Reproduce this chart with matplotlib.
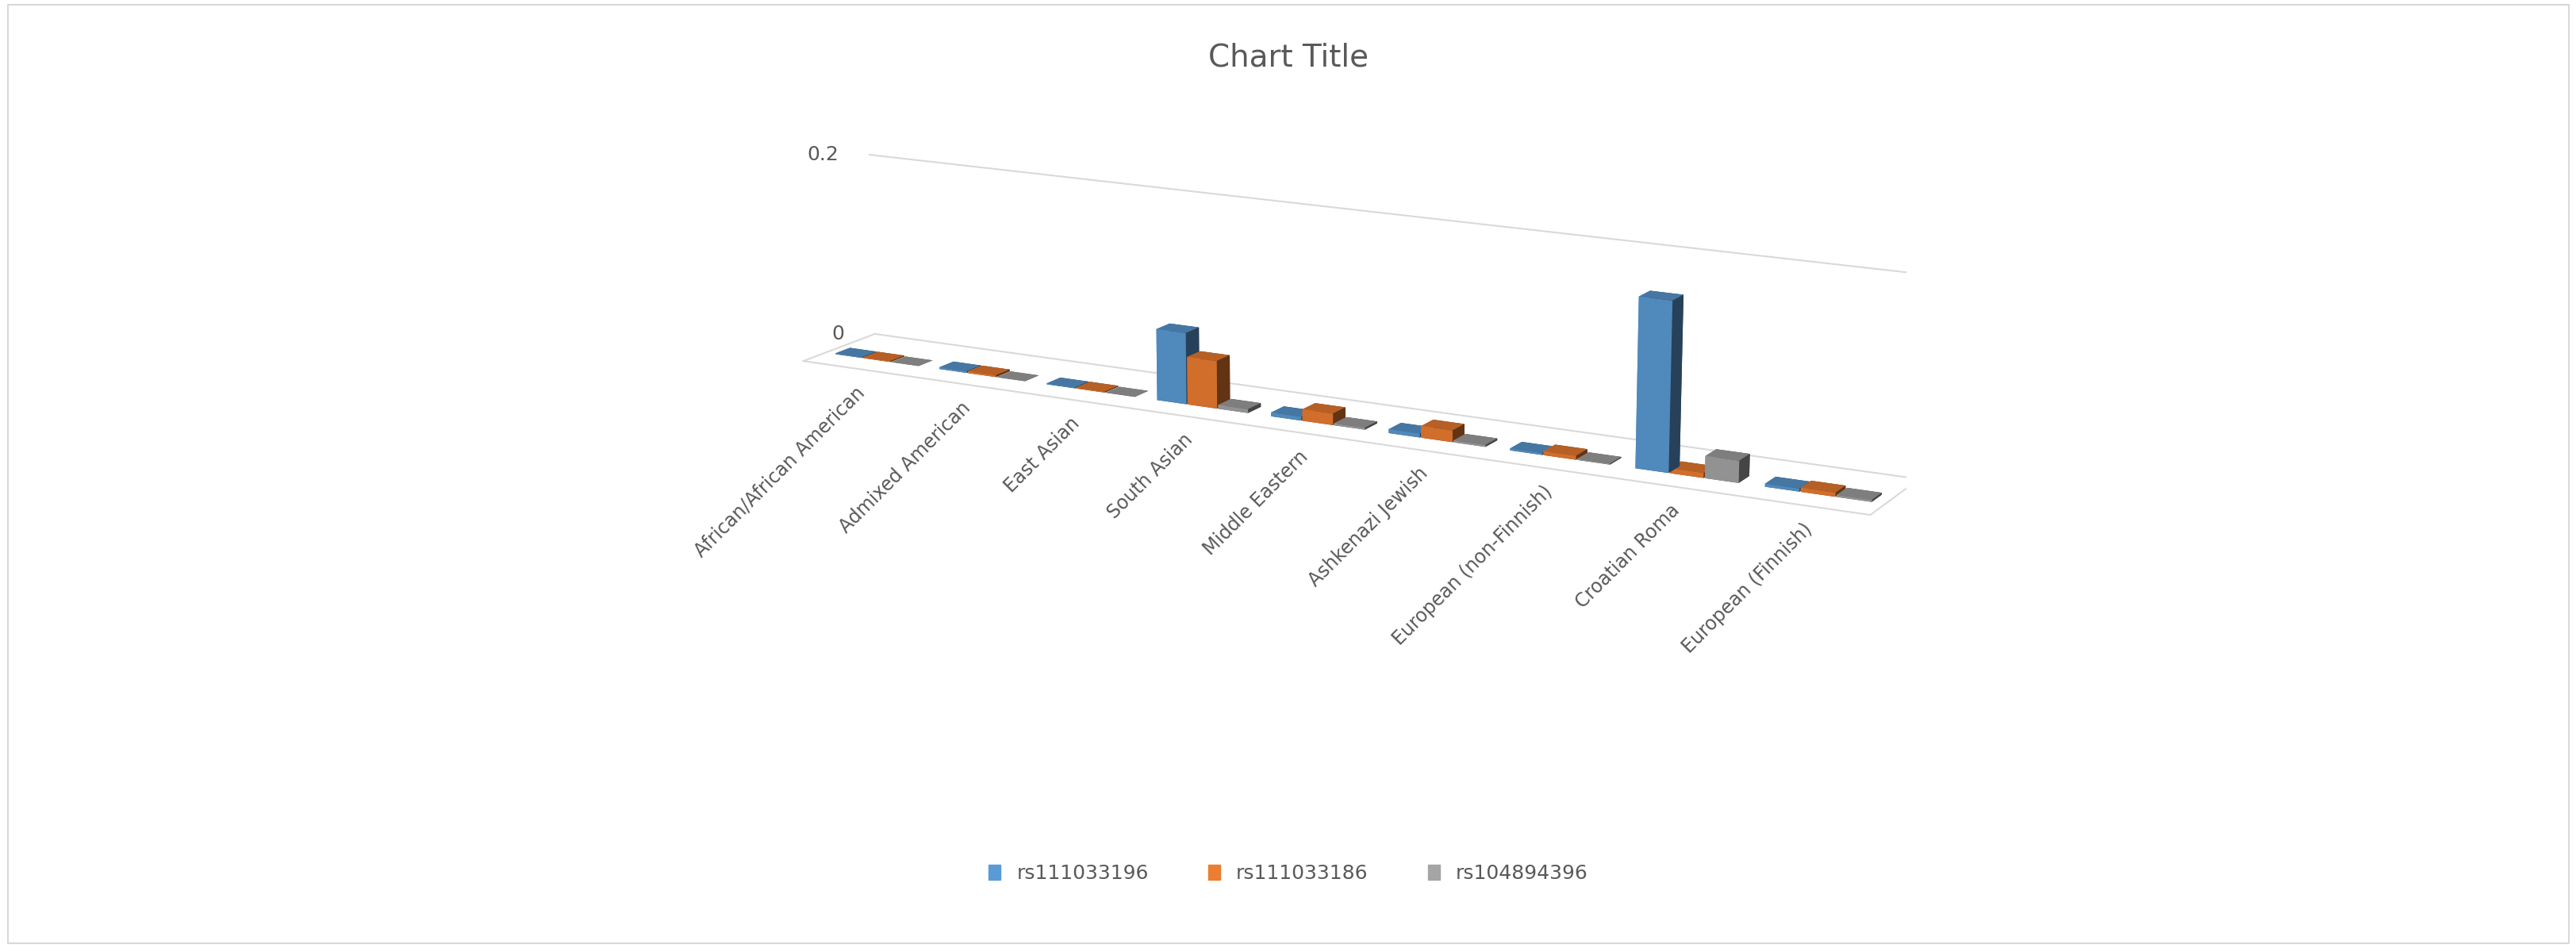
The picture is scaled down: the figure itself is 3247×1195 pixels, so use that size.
import matplotlib
matplotlib.use("Agg")
import matplotlib.pyplot as plt
import numpy as np
from mpl_toolkits.mplot3d import proj3d

categories = ["African/African American", "Admixed American", "East Asian", "South Asian",
              "Middle Eastern", "Ashkenazi Jewish", "European (non-Finnish)", "Croatian Roma",
              "European (Finnish)"]
series_names = ["rs111033196", "rs111033186", "rs104894396"]
rs111033196 = [0.001, 0.002, 0.001, 0.075, 0.004, 0.004, 0.002, 0.17, 0.003]
rs111033186 = [0.001, 0.002, 0.001, 0.05, 0.012, 0.012, 0.004, 0.005, 0.004]
rs104894396 = [0.0, 0.0, 0.0, 0.004, 0.002, 0.002, 0.001, 0.022, 0.002]
colors = ["#5B9BD5", "#ED7D31", "#A5A5A5"]

fig = plt.figure(figsize=(32.48, 11.95), dpi=100)
ax = fig.add_axes([0.14, 0.02, 0.74, 1.25], projection="3d")
ax.view_init(elev=14, azim=-62)
ax.set_proj_type("persp", focal_length=0.6)
ax.set_box_aspect((9, 1.0, 1.5))
n = len(categories)
for si, vals in enumerate([rs111033196, rs111033186, rs104894396]):
    for i, v in enumerate(vals):
        ax.bar3d(i + 0.1 + si * 0.27, 0.3, 0, 0.26, 0.2, max(v, 1e-4), color=colors[si], shade=True)
ax.set_xlim(0, n)
ax.set_ylim(0, 1)
ax.set_zlim(0, 0.2)
ax.set_axis_off()
ax.plot([0, n, n, 0, 0], [0, 0, 1, 1, 0], [0, 0, 0, 0, 0], color="#D9D9D9", lw=1.5)
ax.plot([0, n], [1, 1], [0.2, 0.2], color="#D9D9D9", lw=1.5)

fig.canvas.draw()
W, H = fig.get_size_inches() * fig.dpi
def to_fig(x, y, z):
    x2, y2, _ = proj3d.proj_transform(x, y, z, ax.get_proj())
    px, py = ax.transData.transform((x2, y2))
    return px / W, py / H

for val, lab in [(0.2, "0.2"), (0.0, "0")]:
    fx, fy = to_fig(0, 1, val)
    fig.text(fx - 0.012, fy, lab, fontsize=18, color="#595959", ha="right", va="center")
for i, c in enumerate(categories):
    fx, fy = to_fig(i + 0.5, 0, 0)
    fig.text(fx, fy - 0.015, c, fontsize=17, color="#595959", rotation=45,
             ha="right", va="top", rotation_mode="anchor")

fig.text(0.5, 0.955, "Chart Title", ha="center", va="top", fontsize=28, color="#595959")
handles = [plt.Rectangle((0, 0), 1, 1, color=c) for c in colors]
fig.legend(handles, series_names, loc="lower center", ncol=3, frameon=False,
           fontsize=18, labelcolor="#595959", bbox_to_anchor=(0.5, 0.05),
           handlelength=0.6, handleheight=0.8, columnspacing=3)
border = plt.Rectangle((0.003, 0.005), 0.994, 0.99, transform=fig.transFigure,
                       fill=False, ec="#D9D9D9", lw=1.5)
fig.patches.append(border)
fig.savefig("out.png", dpi=100)
